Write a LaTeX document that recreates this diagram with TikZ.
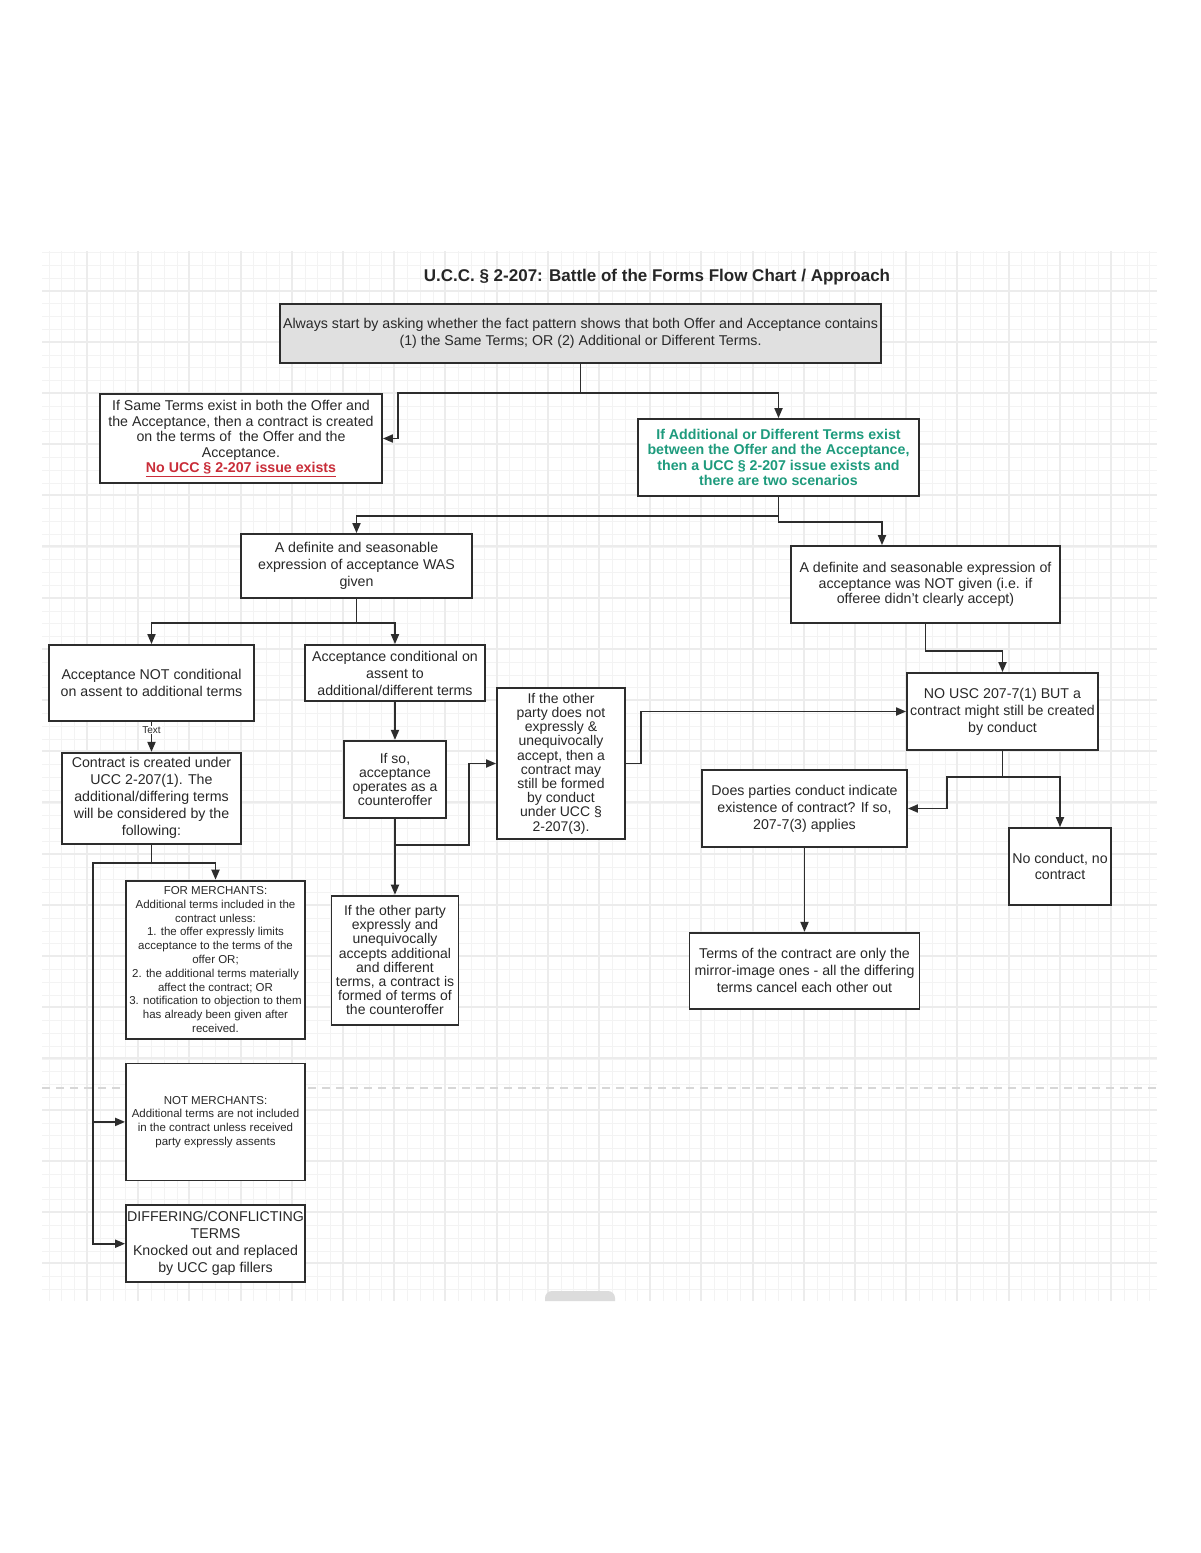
\documentclass[tikz,border=0pt]{standalone}
\usepackage{fontspec}
\setmainfont{Liberation Sans}
\usetikzlibrary{positioning,calc,arrows.meta}
\definecolor{linegray}{RGB}{45,45,45}
\definecolor{textgray}{RGB}{40,40,40}
\definecolor{startgray}{RGB}{224,224,224}
\definecolor{uccred}{RGB}{201,45,57}
\definecolor{uccteal}{RGB}{30,155,125}
\definecolor{gridminor}{RGB}{243,243,243}
\definecolor{gridmajor}{RGB}{236,236,236}
\definecolor{dashgray}{RGB}{215,215,215}
\definecolor{tabgray}{RGB}{220,220,220}

\begin{document}
\begin{tikzpicture}[x=1pt, y=-1pt,
boxnode/.style={rectangle, draw=linegray, fill=white, text=textgray, line width=1.8pt, align=center, inner sep=0.5pt, font=\fontsize{14.2}{17}\selectfont},
midnode/.style={boxnode, font=\fontsize{14.2}{15.5}\selectfont},
tightnode/.style={boxnode, font=\fontsize{14}{14.2}\selectfont},
smallnode/.style={boxnode, font=\fontsize{11.5}{13.8}\selectfont},
startnode/.style={boxnode, fill=startgray},
titletext/.style={text=black!85, font=\fontsize{17}{20}\selectfont\bfseries},
textlabel/.style={fill=white, text=textgray, inner sep=1pt, font=\fontsize{10}{11}\selectfont},
arrow/.style={->, line width=1.8pt, draw=linegray, >={Triangle[length=10pt,width=8pt]}}
]
%Background
\useasboundingbox (0,0) rectangle (1200,1553);
\fill[white] (0,0) rectangle (1200,1553);
\foreach \k in {-3,...,83} \draw[gridminor, line width=1pt] ({floor(87.5+12.8*\k)+0.5},251) -- ++(0,1050);
\foreach \k in {-3,...,78} \draw[gridminor, line width=1pt] (42,{floor(291+12.8*\k)+0.5}) -- ++(1115,0);
\foreach \k in {0,...,20} \draw[gridmajor, line width=2pt] ({floor(87.5+51.2*\k)},251) -- ++(0,1050);
\foreach \k in {0,...,19} \draw[gridmajor, line width=2pt] (42,{floor(291+51.2*\k)}) -- ++(1115,0);
\draw[dashgray, line width=1.2pt, dash pattern=on 8pt off 6pt] (42,1088) -- (1157,1088);
\fill[tabgray] (545,1301) [rounded corners=7pt] -- (545,1291) -- (615,1291) [sharp corners] -- (615,1301) -- cycle;

%Title
\node[titletext] 							(title_node) at (657,277) {U.C.C. § 2-207: Battle of the Forms Flow Chart / Approach};

%Nodes top
\node[startnode, minimum width=601pt, minimum height=59pt] 		(start_node) at (580.5,333.5) {Always start by asking whether the fact pattern shows that both Offer and Acceptance contains\\(1) the Same Terms; OR (2) Additional or Different Terms.};
\node[midnode, minimum width=282pt, minimum height=89pt] 		(same_node) at (241,438.5) {If Same Terms exist in both the Offer and\\the Acceptance, then a contract is created\\on the terms of \ the Offer and the\\Acceptance.\\{\color{uccred}\bfseries\underline{No UCC § 2-207 issue exists}}};
\node[midnode, text=uccteal, font=\fontsize{14.2}{15.3}\selectfont\bfseries, minimum width=281pt, minimum height=77pt] 	(addl_node) at (778.5,457.5) {If Additional or Different Terms exist\\between the Offer and the Acceptance,\\then a UCC § 2-207 issue exists and\\there are two scenarios};

%Nodes two scenarios
\node[boxnode, minimum width=231pt, minimum height=64pt] 		(was_node) at (356.5,566) {A definite and seasonable\\expression of acceptance WAS\\given};
\node[midnode, minimum width=269pt, minimum height=77pt] 		(notgiven_node) at (925.5,584.5) {A definite and seasonable expression of\\acceptance was NOT given (i.e. if\\offeree didn’t clearly accept)};

%Nodes acceptance given
\node[boxnode, minimum width=205pt, minimum height=76pt] 		(notcond_node) at (151.5,683) {Acceptance NOT conditional\\on assent to additional terms};
\node[boxnode, minimum width=180pt, minimum height=56pt] 		(cond_node) at (395,673) {Acceptance conditional on\\assent to\\additional/different terms};
\node[boxnode, minimum width=179pt, minimum height=91pt] 		(created_node) [below=30pt of notcond_node] {Contract is created under\\UCC 2-207(1). The\\additional/differing terms\\will be considered by the\\following:};
\node[tightnode, minimum width=102pt, minimum height=77pt] 	(ifso_node) [below=38pt of cond_node] {If so,\\acceptance\\operates as a\\counteroffer};
\node[tightnode, minimum width=128pt, minimum height=151pt] 	(doesnot_node) at (561,763.5) {If the other\\party does not\\expressly \&\\unequivocally\\accept, then a\\contract may\\still be formed\\by conduct\\under UCC §\\2-207(3).};
\node[tightnode, minimum width=127pt, minimum height=129pt] 	(expressly_node) [below=76pt of ifso_node] {If the other party\\expressly and\\unequivocally\\accepts additional\\and different\\terms, a contract is\\formed of terms of\\the counteroffer};

%Nodes merchants
\node[smallnode, minimum width=179pt, minimum height=158pt] 	(merchants_node) [below=35pt of created_node, xshift=64pt] {FOR MERCHANTS:\\Additional terms included in the\\contract unless:\\1. the offer expressly limits\\acceptance to the terms of the\\offer OR;\\2. the additional terms materially\\affect the contract; OR\\3. notification to objection to them\\has already been given after\\received.};
\node[smallnode, minimum width=179pt, minimum height=117pt] 	(notmerch_node) [below=23pt of merchants_node] {NOT MERCHANTS:\\Additional terms are not included\\in the contract unless received\\party expressly assents};
\node[boxnode, minimum width=179pt, minimum height=77pt] 		(differing_node) [below=23pt of notmerch_node] {DIFFERING/CONFLICTING\\TERMS\\Knocked out and replaced\\by UCC gap fillers};

%Nodes acceptance not given
\node[boxnode, minimum width=191pt, minimum height=77pt] 		(nousc_node) at (1002.5,711.5) {NO USC 207-7(1) BUT a\\contract might still be created\\by conduct};
\node[boxnode, minimum width=205pt, minimum height=77pt] 		(conduct_node) at (804.5,808.5) {Does parties conduct indicate\\existence of contract? If so,\\207-7(3) applies};
\node[midnode, minimum width=102pt, minimum height=77pt] 		(noconduct_node) at (1060,866.5) {No conduct, no\\contract};
\node[boxnode, minimum width=230pt, minimum height=76pt] 		(mirror_node) [below=84pt of conduct_node] {Terms of the contract are only the\\mirror-image ones - all the differing\\terms cancel each other out};

%Arrow
%Arrow from start
\draw [arrow] (start_node.south) -- ++(0,29) -| ($(same_node.east)+(15,0)$) -- (same_node.east);
\draw [arrow] (start_node.south) -- ++(0,29) -| (addl_node.north);

%Arrow to the two scenarios
\draw [arrow] (addl_node.south) -- ++(0,19) -| (was_node.north);
\draw [arrow] (addl_node.south) -- ++(0,25) -| ($(notgiven_node.north)+(-43.5,0)$);

%Arrow acceptance given
\draw [arrow] (was_node.south) -- ++(0,24) -| (notcond_node.north);
\draw [arrow] (was_node.south) -- ++(0,24) -| (cond_node.north);
\draw [arrow] (notcond_node) -- node[textlabel, pos=0.27] (text_label) {Text} (created_node);
\draw [arrow] (cond_node) -- (ifso_node);
\draw [arrow] (ifso_node.south) -- (ifso_node.south |- expressly_node.north);
\draw [arrow] (ifso_node.south) -- ++(0,26) -| ($(doesnot_node.west)+(-27,0)$) -- (doesnot_node.west);
\draw [arrow] (doesnot_node.east) -- ++(15,0) |- (nousc_node.west);

%Arrow to merchants
\draw [arrow] (created_node.south) -- ++(0,18) -| (merchants_node.north);
\draw [arrow] (created_node.south) -- ++(0,18) -| ($(notmerch_node.west)+(-32,0)$) -- (notmerch_node.west);
\draw [arrow] (created_node.south) -- ++(0,18) -| ($(differing_node.west)+(-32,0)$) -- (differing_node.west);

%Arrow acceptance not given
\draw [arrow] (notgiven_node.south) -- ++(0,27) -| (nousc_node.north);
\draw [arrow] (nousc_node.south) -- ++(0,26) -| ($(conduct_node.east)+(39,0)$) -- (conduct_node.east);
\draw [arrow] (nousc_node.south) -- ++(0,26) -| (noconduct_node.north);
\draw [arrow] (conduct_node.south) -- (conduct_node.south |- mirror_node.north);

\end{tikzpicture}
\end{document}
